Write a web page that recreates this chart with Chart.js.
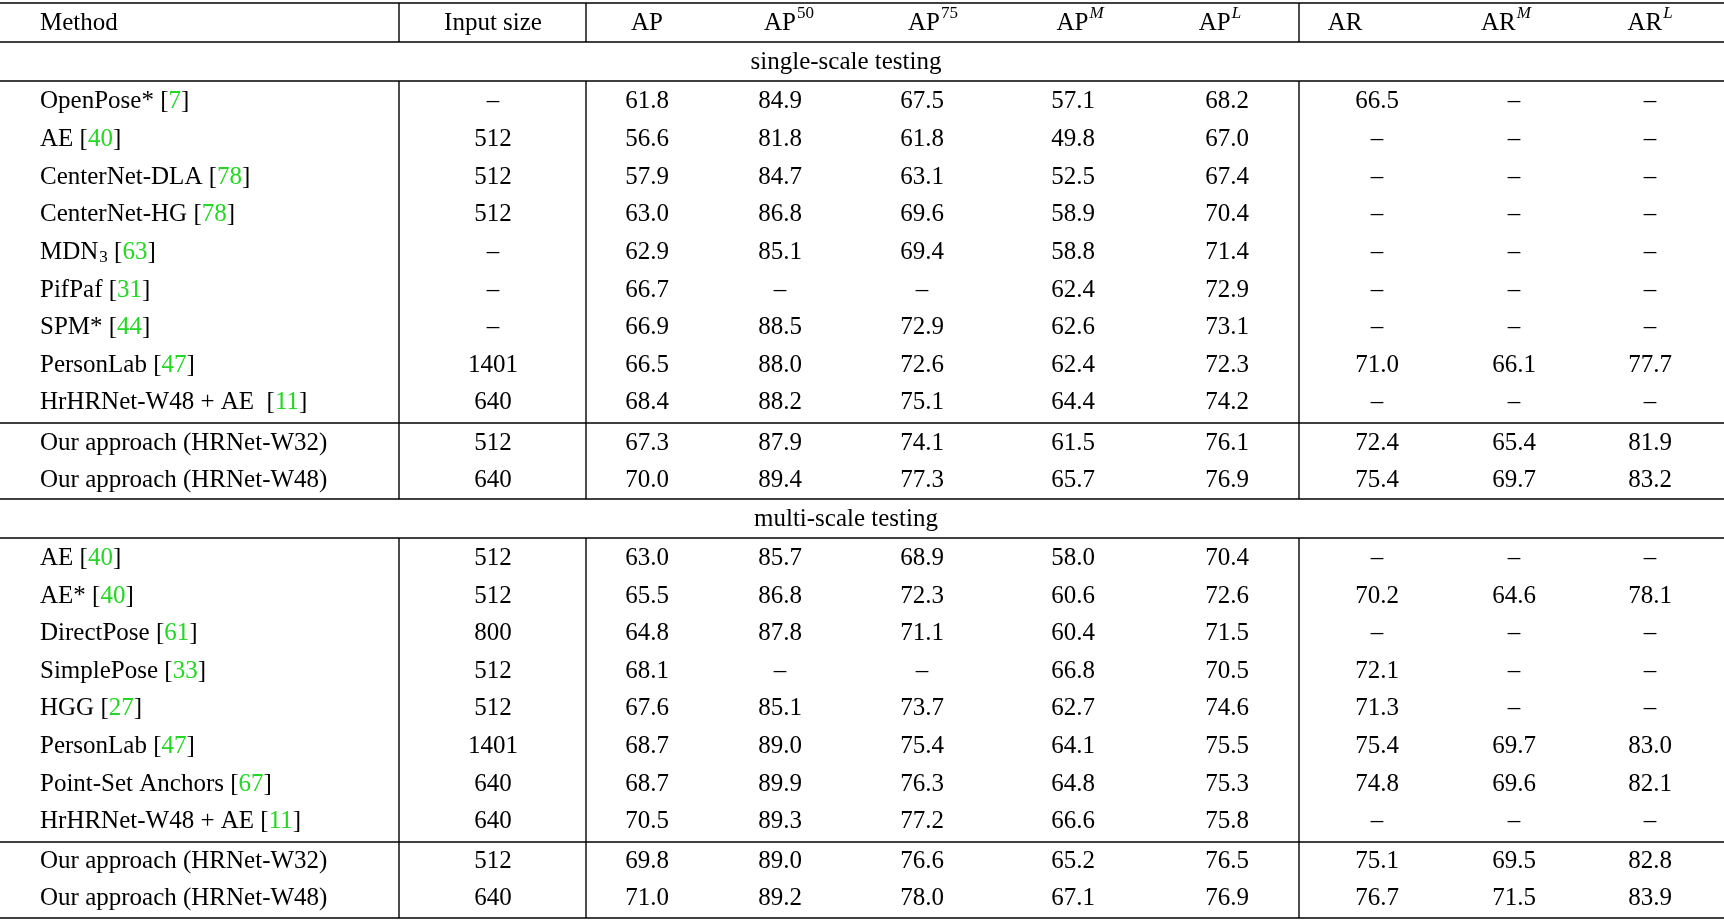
<!DOCTYPE html>
<html><head><meta charset="utf-8">
<script src="https://cdn.jsdelivr.net/npm/chart.js@4/dist/chart.umd.min.js"></script>
<style>html,body{margin:0;padding:0;background:#fff}#wrap{width:1724px;height:922px}</style>
</head><body><div id="wrap"><canvas id="c"></canvas></div>
<script>
// ---- data ----
const headers = [["Method"],["Input size"],["AP"],["AP","50"],["AP","75"],["AP","M"],["AP","L"],["AR"],["AR","M"],["AR","L"]];
const sections = ["single-scale testing","multi-scale testing"];
const methods = ["OpenPose*","AE","CenterNet-DLA","CenterNet-HG","MDN_3","PifPaf","SPM*","PersonLab","HrHRNet-W48 + AE ",
  "Our approach (HRNet-W32)","Our approach (HRNet-W48)",
  "AE","AE*","DirectPose","SimplePose","HGG","PersonLab","Point-Set Anchors","HrHRNet-W48 + AE",
  "Our approach (HRNet-W32)","Our approach (HRNet-W48)"];
const refs = ["7","40","78","78","63","31","44","47","11","","","40","40","61","33","27","47","67","11","",""];
const inputSize = [null,512,512,512,null,null,null,1401,640,512,640,512,512,800,512,512,1401,640,640,512,640];
const AP   = [61.8,56.6,57.9,63.0,62.9,66.7,66.9,66.5,68.4,67.3,70.0,63.0,65.5,64.8,68.1,67.6,68.7,68.7,70.5,69.8,71.0];
const AP50 = [84.9,81.8,84.7,86.8,85.1,null,88.5,88.0,88.2,87.9,89.4,85.7,86.8,87.8,null,85.1,89.0,89.9,89.3,89.0,89.2];
const AP75 = [67.5,61.8,63.1,69.6,69.4,null,72.9,72.6,75.1,74.1,77.3,68.9,72.3,71.1,null,73.7,75.4,76.3,77.2,76.6,78.0];
const APM  = [57.1,49.8,52.5,58.9,58.8,62.4,62.6,62.4,64.4,61.5,65.7,58.0,60.6,60.4,66.8,62.7,64.1,64.8,66.6,65.2,67.1];
const APL  = [68.2,67.0,67.4,70.4,71.4,72.9,73.1,72.3,74.2,76.1,76.9,70.4,72.6,71.5,70.5,74.6,75.5,75.3,75.8,76.5,76.9];
const AR   = [66.5,null,null,null,null,null,null,71.0,null,72.4,75.4,null,70.2,null,72.1,71.3,75.4,74.8,null,75.1,76.7];
const ARM  = [null,null,null,null,null,null,null,66.1,null,65.4,69.7,null,64.6,null,null,null,69.7,69.6,null,69.5,71.5];
const ARL  = [null,null,null,null,null,null,null,77.7,null,81.9,83.2,null,78.1,null,null,null,83.0,82.1,null,82.8,83.9];

// ---- layout ----
const valueCols = [inputSize,AP,AP50,AP75,APM,APL,AR,ARM,ARL];
const colX = [493,647,780,922,1073,1227,1377,1514,1650];
const headX = [40,493,647,789,933,1080,1220,1345,1506,1650];
const headY = 22, sectionY = [61,518], sectionX = 846;
const rowY = [100,138,176,213,251,289,326,364,401,442,479,557,595,632,670,707,745,783,820,860,897];
const hLines = [3,42,81,423,499,538,842,918];
const vLines = [399,586,1299];
const vSpans = [[3,42],[81,499],[538,918]];
const FONT = '"Liberation Serif","Times New Roman",serif';
const GREEN = '#22d822';

const tablePlugin = {
  id:'table',
  afterDraw(chart){
    const ctx = chart.ctx, xs = chart.scales.x, ys = chart.scales.y;
    const X = v=>xs.getPixelForValue(v), Y = v=>ys.getPixelForValue(v);
    ctx.save();
    ctx.strokeStyle='#000'; ctx.lineWidth=1.4;
    hLines.forEach(h=>{ctx.beginPath();ctx.moveTo(X(0),Y(h));ctx.lineTo(X(1724),Y(h));ctx.stroke();});
    vLines.forEach(v=>vSpans.forEach(s=>{ctx.beginPath();ctx.moveTo(X(v),Y(s[0]));ctx.lineTo(X(v),Y(s[1]));ctx.stroke();}));
    ctx.textBaseline='middle'; ctx.fillStyle='#000';
    const base = '25px '+FONT, small = '17px '+FONT, smallI = 'italic 17px '+FONT;
    // headers
    headers.forEach((h,i)=>{
      ctx.font=base;
      const w1 = ctx.measureText(h[0]).width;
      let w2=0; const isLetter = h[1] && /[A-Z]/.test(h[1]);
      if(h[1]){ctx.font=isLetter?smallI:small; w2=ctx.measureText(h[1]).width+1;}
      let x0 = i===0 ? X(headX[i]) : X(headX[i])-(w1+w2)/2;
      ctx.font=base; ctx.textAlign='left'; ctx.fillText(h[0],x0,Y(headY)+1);
      if(h[1]){ctx.font=isLetter?smallI:small; ctx.fillText(h[1],x0+w1+1,Y(headY)-8);}
    });
    ctx.font=base; ctx.textAlign='center';
    sections.forEach((s,i)=>ctx.fillText(s,X(sectionX),Y(sectionY[i])+1));
    // method column
    methods.forEach((m,r)=>{
      let x = X(40), y = Y(rowY[r])+1;
      ctx.textAlign='left'; ctx.fillStyle='#000'; ctx.font=base;
      if(m.includes('_')){
        const [a,b]=m.split('_');
        ctx.fillText(a,x,y); x+=ctx.measureText(a).width;
        ctx.font=small; ctx.fillText(b,x+1,y+6); x+=ctx.measureText(b).width+1; ctx.font=base;
      } else { ctx.fillText(m,x,y); x+=ctx.measureText(m).width; }
      if(refs[r]){
        const sp=' '; x+=ctx.measureText(sp).width;
        ctx.fillText('[',x,y); x+=ctx.measureText('[').width;
        ctx.fillStyle=GREEN; ctx.fillText(refs[r],x,y); x+=ctx.measureText(refs[r]).width;
        ctx.fillStyle='#000'; ctx.fillText(']',x,y);
      }
    });
    // values
    ctx.textAlign='center'; ctx.font=base; ctx.fillStyle='#000';
    valueCols.forEach((col,c)=>col.forEach((v,r)=>{
      const t = v===null ? '–' : (c===0 ? String(v) : v.toFixed(1));
      ctx.fillText(t,X(colX[c]),Y(rowY[r])+1);
    }));
    ctx.restore();
  }
};

new Chart(document.getElementById('c'),{
  type:'scatter',
  data:{datasets:[{data:[],pointRadius:0}]},
  options:{
    responsive:true, maintainAspectRatio:false, animation:false,
    layout:{padding:0},
    plugins:{legend:{display:false},tooltip:{enabled:false}},
    scales:{
      x:{type:'linear',min:0,max:1724,display:false},
      y:{type:'linear',min:0,max:922,reverse:true,display:false}
    }
  },
  plugins:[tablePlugin]
});
</script></body></html>
